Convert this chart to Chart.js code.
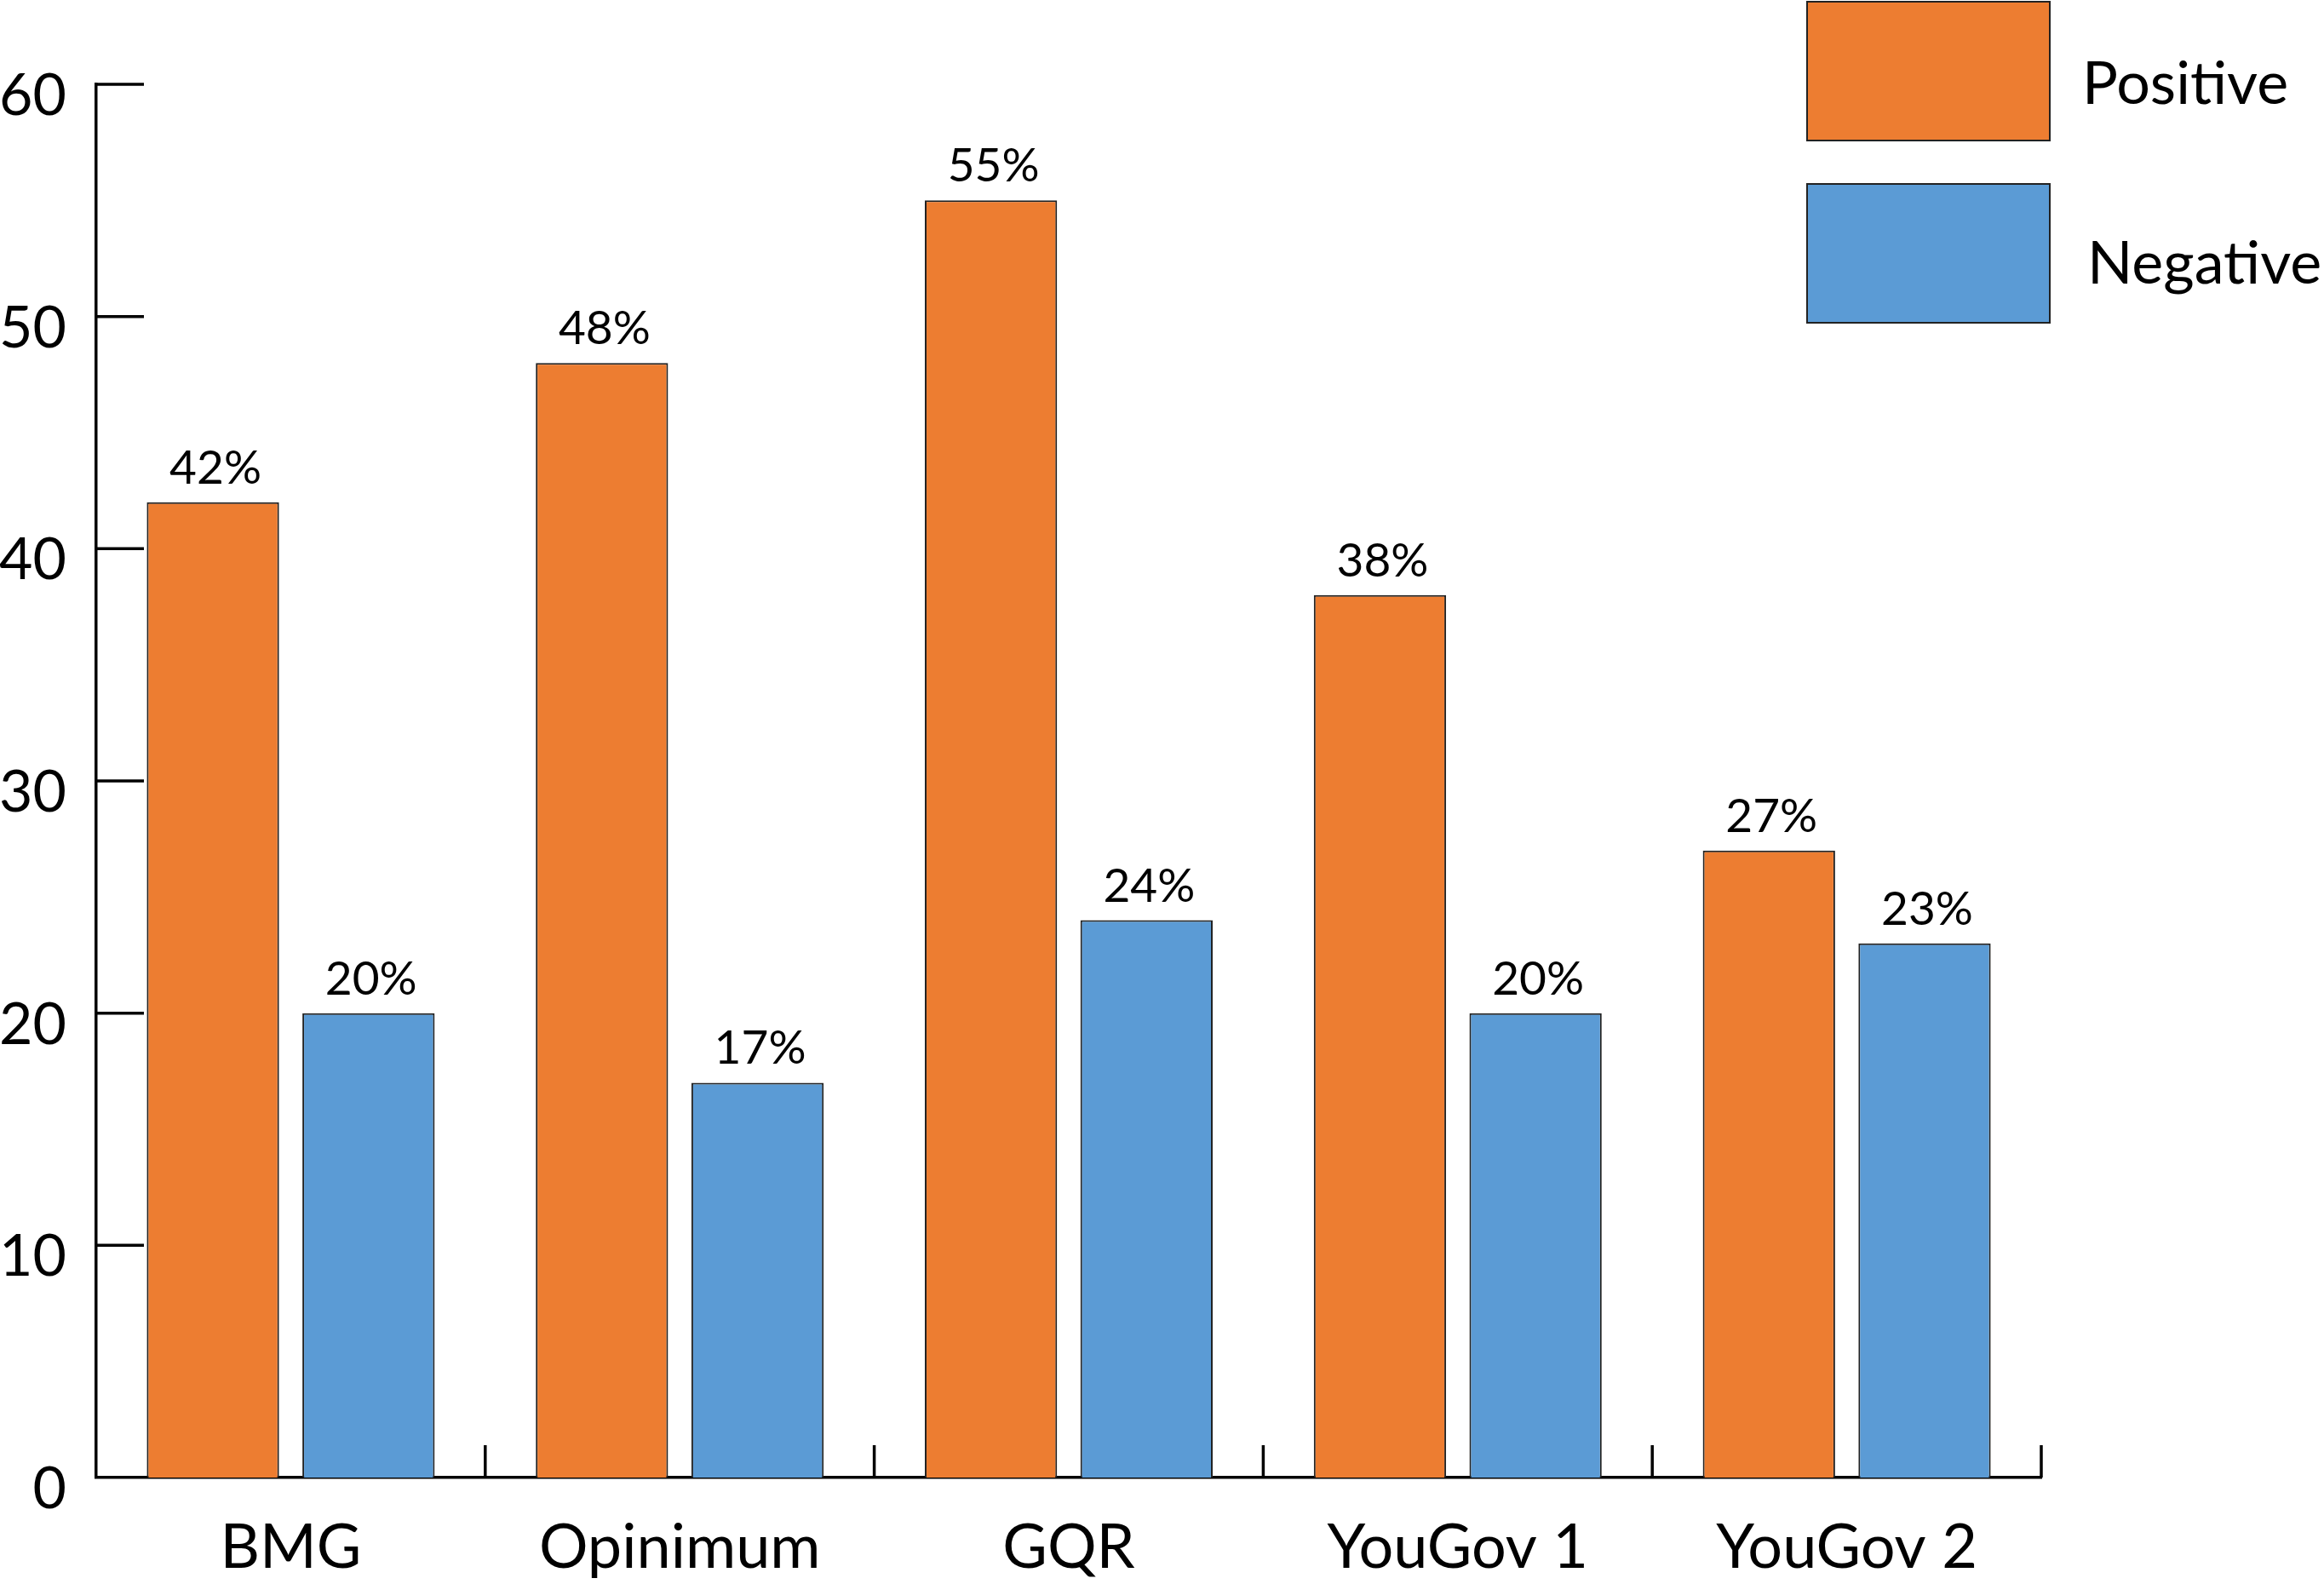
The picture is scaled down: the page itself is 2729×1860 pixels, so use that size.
<!DOCTYPE html>
<html lang="en">
<head>
  <meta charset="UTF-8">
  <title>Positive / Negative</title>
  <script src="https://cdn.jsdelivr.net/npm/chart.js"></script>
  <style>
    html, body { margin: 0; padding: 0; background: #fff; }
  </style>
</head>
<body>
  <canvas id="myChart" width="2729" height="1860"></canvas>

  <script>
    const categories = ['BMG', 'Opinimum', 'GQR', 'YouGov 1', 'YouGov 2'];
    const positiveValues = [42, 48, 55, 38, 27];
    const negativeValues = [20, 17, 24, 20, 23];
    const seriesNames = ['Positive', 'Negative'];
    const yTicks = [0, 10, 20, 30, 40, 50, 60];

    const FONT = 'Lato, "Noto Sans", sans-serif';

    // value labels above each bar
    const barLabels = {
      id: 'barLabels',
      afterDatasetsDraw(chart) {
        const c = chart.ctx;
        c.save();
        c.fillStyle = '#000';
        c.font = '55px ' + FONT;
        c.textAlign = 'center';
        c.textBaseline = 'alphabetic';
        chart.data.datasets.forEach((ds, i) => {
          chart.getDatasetMeta(i).data.forEach((bar, j) => {
            c.fillText(ds.data[j] + '%', bar.x + 3, bar.y - 22);
          });
        });
        c.restore();
      }
    };

    // inward tick marks on both axes
    const axisTicks = {
      id: 'axisTicks',
      afterDraw(chart) {
        const c = chart.ctx;
        const x = chart.scales.x;
        const y = chart.scales.y;
        const area = chart.chartArea;
        c.save();
        c.strokeStyle = '#000';
        c.lineWidth = 3.5;
        yTicks.forEach(v => {
          if (v === 0) return;
          const py = y.getPixelForValue(v);
          c.beginPath();
          c.moveTo(area.left, py);
          c.lineTo(area.left + 56, py);
          c.stroke();
        });
        for (let i = 0; i < categories.length; i++) {
          const half = (x.getPixelForValue(1) - x.getPixelForValue(0)) / 2;
          const px = x.getPixelForValue(i) + half;
          c.beginPath();
          c.moveTo(px, area.bottom);
          c.lineTo(px, area.bottom - 38);
          c.stroke();
        }
        c.restore();
      }
    };

    // legend boxes in the top right corner
    const boxLegend = {
      id: 'boxLegend',
      afterDraw(chart) {
        const c = chart.ctx;
        const rows = [
          { top: 2, textX: 2445, textY: 99 },
          { top: 216, textX: 2451, textY: 310 }
        ];
        c.save();
        chart.data.datasets.forEach((ds, i) => {
          const r = rows[i];
          c.fillStyle = ds.backgroundColor;
          c.fillRect(2122, r.top, 285, 163);
          c.strokeStyle = '#222';
          c.lineWidth = 2;
          c.strokeRect(2122, r.top, 285, 163);
          c.fillStyle = '#000';
          c.font = '70px ' + FONT;
          c.textAlign = 'left';
          c.textBaseline = 'middle';
          c.fillText(ds.label, r.textX, r.textY);
        });
        c.restore();
      }
    };

    const ctx = document.getElementById('myChart').getContext('2d');
    const chart = new Chart(ctx, {
      type: 'bar',
      data: {
        labels: categories,
        datasets: [{
          label: seriesNames[0],
          data: positiveValues,
          backgroundColor: '#ED7D31',
          borderColor: '#222',
          borderWidth: 2,
          categoryPercentage: 0.8,
          barPercentage: 0.85
        }, {
          label: seriesNames[1],
          data: negativeValues,
          backgroundColor: '#5B9BD5',
          borderColor: '#222',
          borderWidth: 2,
          categoryPercentage: 0.8,
          barPercentage: 0.85
        }]
      },
      options: {
        responsive: false,
        devicePixelRatio: 1,
        animation: false,
        layout: { padding: { top: 99, right: 332, left: 0, bottom: 0 } },
        plugins: {
          legend: { display: false },
          tooltip: { enabled: false }
        },
        scales: {
          x: {
            grid: { display: false, drawTicks: false },
            border: { display: true, color: '#000', width: 3.5 },
            ticks: {
              color: '#000',
              font: { family: FONT, size: 72 },
              padding: 40,
              maxRotation: 0
            },
            afterFit(scale) {
              scale.height = 125;
              scale.paddingLeft = 0;
              scale.paddingRight = 0;
            }
          },
          y: {
            min: 0,
            max: 60,
            grid: { display: false, drawTicks: false },
            border: { display: true, color: '#000', width: 3.5 },
            afterBuildTicks(scale) {
              scale.ticks = yTicks.map(v => ({ value: v }));
            },
            ticks: {
              color: '#000',
              font: { family: FONT, size: 68 },
              padding: 35,
              labelOffset: 14
            },
            afterFit(scale) {
              scale.width = 113;
              scale.paddingTop = 0;
              scale.paddingBottom = 0;
            }
          }
        }
      },
      plugins: [barLabels, axisTicks, boxLegend]
    });
  </script>
</body>
</html>
